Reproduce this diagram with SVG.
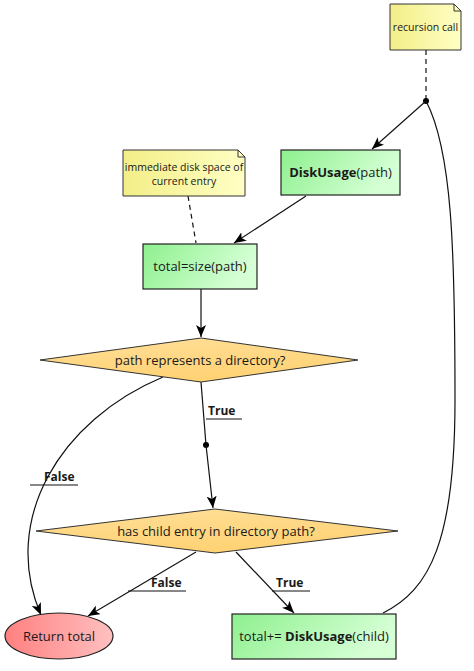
<svg xmlns="http://www.w3.org/2000/svg" width="474" height="671" viewBox="0 0 474 671">
<defs>
<linearGradient id="gNote" x1="0" y1="0" x2="1" y2="0"><stop offset="0" stop-color="#F3EE88"/><stop offset="1" stop-color="#FFFFC4"/></linearGradient>
<linearGradient id="gGreen" x1="0" y1="0" x2="1" y2="0.3"><stop offset="0" stop-color="#8EF08E"/><stop offset="1" stop-color="#D6FFD6"/></linearGradient>
<linearGradient id="gDia" x1="0" y1="0" x2="0.3" y2="1"><stop offset="0" stop-color="#FFDF98"/><stop offset="1" stop-color="#FFD274"/></linearGradient>
<linearGradient id="gRed" x1="0" y1="0" x2="1" y2="0"><stop offset="0" stop-color="#FF8080"/><stop offset="1" stop-color="#FFC0C0"/></linearGradient>
<marker id="arr" viewBox="0 0 12 10" refX="12" refY="5" markerWidth="12" markerHeight="10" markerUnits="userSpaceOnUse" orient="auto"><path d="M0,0 L12,5 L0,10 L3,5 Z" fill="#000"/></marker>
</defs>
<style>
text{font-family:"Open Sans","Noto Sans","DejaVu Sans",sans-serif;fill:#1a1a1a}
.t{font-size:13px}
.n{font-size:10.5px}
.l{font-size:12px;font-weight:bold}
.b{font-weight:bold}
.box{fill:url(#gGreen);stroke:#222;stroke-width:1.2}
.note{fill:url(#gNote);stroke:#333;stroke-width:1}
.dia{fill:url(#gDia);stroke:#333;stroke-width:1}
.e{fill:none;stroke:#111;stroke-width:1.2}
.d{fill:none;stroke:#111;stroke-width:1.2;stroke-dasharray:5,4}
</style>
<g id="connectors">
<path class="d" d="M426,50 L426,100"/>
<circle cx="426" cy="101" r="3" fill="#000"/>
<path class="e" d="M426,101 L372,149" marker-end="url(#arr)"/>
<path class="e" d="M426,101 C452,150 455,250 455,400 C455,540 430,590 383,613"/>
<path class="d" d="M188,196 L196,243"/>
<path class="e" d="M306,196 L234,243" marker-end="url(#arr)"/>
<path class="e" d="M201,289 L201,337" marker-end="url(#arr)"/>
<path class="e" d="M201,382 L206,445"/>
<circle cx="206" cy="445" r="3" fill="#000"/>
<path class="e" d="M206,445 L213,508" marker-end="url(#arr)"/>
<path class="e" d="M163,377 C60,420 0,520 41,615" marker-end="url(#arr)"/>
<path class="e" d="M196,552 L88,616" marker-end="url(#arr)"/>
<path class="e" d="M236,552 L294,613" marker-end="url(#arr)"/>
<text class="l" x="208" y="415">True</text>
<path class="e" d="M206,419 L242,419"/>
<text class="l" x="44" y="481">False</text>
<path class="e" d="M30,485 L78,485"/>
<text class="l" x="151" y="587">False</text>
<path class="e" d="M128,591 L186,591"/>
<text class="l" x="276" y="587">True</text>
<path class="e" d="M272,591 L310,591"/>
</g>
<g id="note_recursion">
<path class="note" d="M390,4 L454,4 L461,11 L461,50 L390,50 Z"/>
<path d="M454,4 L454,11 L461,11" fill="none" stroke="#333"/>
<text class="n" x="425.5" y="31" text-anchor="middle">recursion call</text>
</g>
<g id="node_diskusage">
<rect class="box" x="281" y="150" width="119" height="45"/>
<text class="t" x="340.5" y="177" text-anchor="middle"><tspan class="b">DiskUsage</tspan>(path)</text>
</g>
<g id="note_immediate">
<path class="note" d="M123,150 L238,150 L245,157 L245,196 L123,196 Z"/>
<path d="M238,150 L238,157 L245,157" fill="none" stroke="#333"/>
<text class="n" x="184" y="171" text-anchor="middle">immediate disk space of</text>
<text class="n" x="184" y="185" text-anchor="middle">current entry</text>
</g>
<g id="node_total">
<rect class="box" x="143" y="244" width="114" height="45"/>
<text class="t" x="200" y="271" text-anchor="middle">total=size(path)</text>
</g>
<g id="node_isdir">
<path class="dia" d="M40,360 L201,338 L358,360 L201,382 Z"/>
<text class="t" x="200" y="365" text-anchor="middle">path represents a directory?</text>
</g>
<g id="node_haschild">
<path class="dia" d="M36,531 L215,509 L398,531 L215,553 Z"/>
<text class="t" x="216" y="536" text-anchor="middle">has child entry in directory path?</text>
</g>
<g id="node_return">
<ellipse cx="59" cy="636" rx="54" ry="23" fill="url(#gRed)" stroke="#222" stroke-width="1.2"/>
<text class="t" x="59" y="641" text-anchor="middle">Return total</text>
</g>
<g id="node_add">
<rect class="box" x="232" y="614" width="164" height="45"/>
<text class="t" x="314" y="641" text-anchor="middle">total+= <tspan class="b">DiskUsage</tspan>(child)</text>
</g>
</svg>
